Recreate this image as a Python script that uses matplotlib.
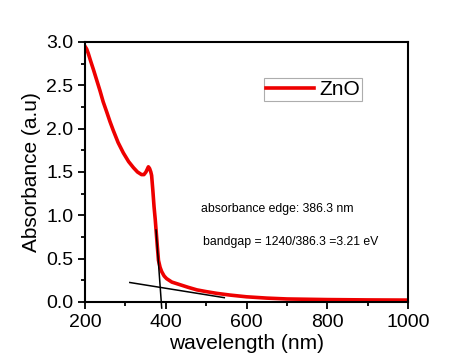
import numpy as np
import matplotlib.pyplot as plt
from matplotlib.ticker import MultipleLocator

plt.rcParams['font.family'] = ['Liberation Sans', 'DejaVu Sans']

# absorbance spectrum
wavelength = [200, 204, 208, 214, 221, 229, 237, 245, 254, 262, 270, 282, 295, 308, 320, 330, 340,
              346, 351, 355, 357, 360, 363, 365, 368, 371, 374, 376, 379, 382, 386, 390, 396, 402,
              415, 435, 455, 477, 500, 526, 559, 600, 650, 700, 800, 900, 1000]
absorbance = [2.95, 2.92, 2.87, 2.78, 2.68, 2.56, 2.44, 2.31, 2.19, 2.08, 1.98, 1.84, 1.72, 1.62, 1.55, 1.50, 1.47,
              1.47, 1.50, 1.54, 1.56, 1.54, 1.50, 1.46, 1.29, 1.10, 0.95, 0.83, 0.65, 0.48, 0.40, 0.35, 0.30, 0.27,
              0.23, 0.20, 0.17, 0.14, 0.12, 0.10, 0.08, 0.06, 0.045, 0.035, 0.028, 0.024, 0.022]

# tangent lines used for the edge estimate
steep_x = [376, 390]
steep_y = [0.83, -0.07]
tail_x = [311, 545]
tail_y = [0.225, 0.05]

fig = plt.figure(figsize=(4.74, 3.63), dpi=100)
ax = fig.add_axes([85 / 474, 1 - 302 / 363, 323 / 474, 260 / 363])

ax.plot(wavelength, absorbance, color='#ee0000', lw=2.6, label='ZnO')
ax.plot(steep_x, steep_y, color='black', lw=1.1, clip_on=False)
ax.plot(tail_x, tail_y, color='black', lw=1.1)

ax.set_xlim(200, 1000)
ax.set_ylim(0, 3.0)
ax.xaxis.set_major_locator(MultipleLocator(200))
ax.xaxis.set_minor_locator(MultipleLocator(100))
ax.yaxis.set_major_locator(MultipleLocator(0.5))
ax.yaxis.set_minor_locator(MultipleLocator(0.25))
ax.tick_params(which='both', direction='out', top=False, right=False, width=1.3, labelsize=14)
ax.tick_params(which='major', length=5)
ax.tick_params(which='minor', length=3)
ax.set_yticklabels([f'{v:.1f}' for v in ax.get_yticks()])
for s in ax.spines.values():
    s.set_linewidth(1.5)

ax.set_xlabel('wavelength (nm)', fontsize=15, labelpad=2)
ax.set_ylabel('Absorbance (a.u)', fontsize=15, labelpad=4)

ax.text(200 + (201 - 85) / 323 * 800, 3.0 * (302 - 209) / 260, 'absorbance edge: 386.3 nm',
        fontsize=8.8, va='center')
ax.text(200 + (203 - 85) / 323 * 800, 3.0 * (302 - 242) / 260, 'bandgap = 1240/386.3 =3.21 eV',
        fontsize=8.8, va='center')

leg = ax.legend(loc='upper left', bbox_to_anchor=((264 - 85) / 323, (302 - 78) / 260),
                fontsize=15, frameon=True, fancybox=False, handlelength=2.3,
                borderpad=0.1, handletextpad=0.25, borderaxespad=0)
leg.get_frame().set_edgecolor('#999999')
leg.get_frame().set_linewidth(0.8)

fig.savefig('out.png', dpi=100)
